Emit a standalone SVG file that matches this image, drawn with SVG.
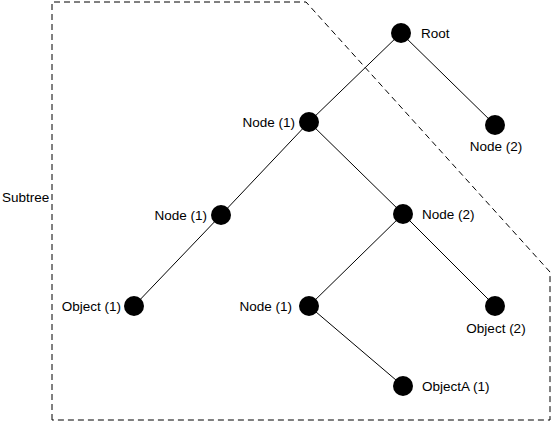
<svg xmlns="http://www.w3.org/2000/svg" width="553" height="423" viewBox="0 0 553 423">
<style>
text{font-family:"Liberation Sans",Arial,sans-serif;font-size:13.5px;fill:#000}
.n{fill:#000}
.e{stroke:#000;stroke-width:1;fill:none}
.b{stroke:#000;stroke-width:1;fill:none;stroke-dasharray:6 4}
.r{text-anchor:end}
.m{text-anchor:middle}
</style>
<rect width="553" height="423" fill="#fff"/>
<g id="subtree">
<path class="b" d="M52,420 L52,2 L306,2 L550,272 L550,420 Z"/>
<text x="2" y="202">Subtree</text>
</g>
<g id="connectors">
<line class="e" x1="401" y1="33" x2="309" y2="122"/>
<line class="e" x1="401" y1="33" x2="495" y2="125"/>
<line class="e" x1="309" y1="122" x2="221" y2="215"/>
<line class="e" x1="309" y1="122" x2="403" y2="214"/>
<line class="e" x1="221" y1="215" x2="134" y2="306"/>
<line class="e" x1="403" y1="214" x2="309" y2="306"/>
<line class="e" x1="403" y1="214" x2="495" y2="306"/>
<line class="e" x1="309" y1="306" x2="403" y2="386"/>
</g>
<g id="root"><circle class="n" cx="401" cy="33" r="10"/><text x="421" y="38">Root</text></g>
<g id="node1a"><circle class="n" cx="309" cy="122" r="10"/><text class="r" x="295" y="127">Node (1)</text></g>
<g id="node2a"><circle class="n" cx="495" cy="125" r="10"/><text class="m" x="496" y="151">Node (2)</text></g>
<g id="node1b"><circle class="n" cx="221" cy="215" r="10"/><text class="r" x="207" y="220">Node (1)</text></g>
<g id="node2b"><circle class="n" cx="403" cy="214" r="10"/><text x="422" y="219">Node (2)</text></g>
<g id="object1"><circle class="n" cx="134" cy="306" r="10"/><text class="r" x="121" y="311">Object (1)</text></g>
<g id="node1c"><circle class="n" cx="309" cy="306" r="10"/><text class="r" x="292" y="311">Node (1)</text></g>
<g id="object2"><circle class="n" cx="495" cy="306" r="10"/><text class="m" x="496" y="333">Object (2)</text></g>
<g id="objectA1"><circle class="n" cx="403" cy="386" r="10"/><text x="422" y="391">ObjectA (1)</text></g>
</svg>
